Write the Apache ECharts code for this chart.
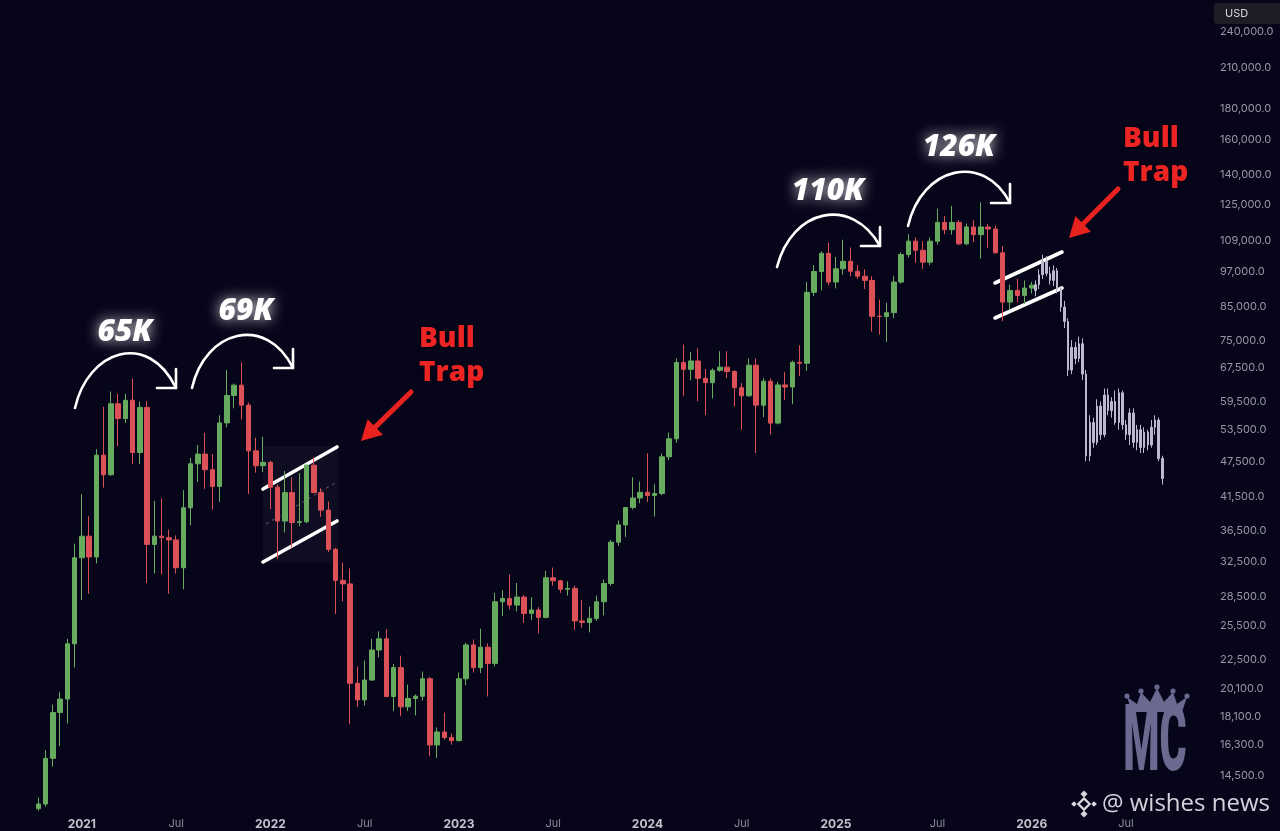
<!DOCTYPE html>
<html>
<head>
<meta charset="utf-8">
<script src="https://cdn.jsdelivr.net/npm/echarts@6/dist/echarts.min.js"></script>
<style>
html,body{margin:0;padding:0;background:#06051a;}
#chart{width:1280px;height:831px;}
</style>
</head>
<body>
<div id="chart"></div>
<script>
// ---------------- DATA ----------------
// BTC/USD 2-week candles, first bar starts 2020-10-12
const barStart = '2020-10-12';
const barStepDays = 14;
const btcOpen = [12800,13030,15480,18400,19360,23850,33000,35800,33100,48600,45140,59000,55800,59800,49100,58200,34700,35800,35600,35300,
31780,39850,47050,48800,46000,43200,54900,60900,63300,58700,49400,46700,47300,43080,37900,42200,37700,37800,46800,42200,
39500,34060,30300,29900,20550,19300,20800,23300,24300,19550,21800,18800,19400,19570,20900,16280,17100,16750,16550,20900,
23750,21800,23550,22150,27950,28300,27600,28450,26750,27100,26350,30600,30250,29300,29400,26000,25850,26250,27950,29950,
35000,37350,39900,41350,42250,41750,42050,48300,51700,68950,67200,69350,64950,63900,66950,67750,66650,62700,60800,68250,
58700,64250,54850,63350,62850,69000,68750,89850,97200,104100,93400,98200,101000,97300,95500,94000,82100,82000,83200,93400,
103600,109000,105300,100700,109000,117000,113800,117000,107900,115000,111700,115000,114100,104300,86600,90500,88800,91300];
const btcHigh = [13350,15960,18950,19900,24300,34800,41950,38600,49700,58350,61800,61200,61300,64850,59500,59600,40900,41300,36700,35900,
42600,48100,50500,52900,48800,56500,67000,63700,69000,59300,51900,52100,47600,43500,45800,44700,45400,46900,48200,42900,
40800,34250,32400,31700,21900,22400,24300,25000,25200,22100,22800,20450,19700,21480,21050,17400,18400,17000,21400,23950,
24250,25250,23900,28900,29200,31000,30000,28650,28450,27400,31400,31800,30350,30200,29700,28150,27450,28600,30400,35300,
38000,39950,44700,44000,48950,43550,48900,52950,70000,73800,71800,72800,67250,67450,71950,71950,67000,63800,70000,70000,
65000,64950,64100,66500,69450,73600,93450,99600,104900,108350,102700,109600,106400,99500,98000,95500,87400,86400,95500,104500,
111900,110600,108900,110500,123200,119800,124500,118000,116500,118000,126200,116400,115500,107000,92500,94500,94000,93500];
const btcLow = [12700,12900,15000,16200,17650,21800,28130,28800,32300,43000,44950,50300,54900,47000,47000,30000,31100,31000,28800,31100,
29300,37300,43900,42800,39600,40750,54000,58000,55600,42000,45500,45600,39650,32900,36300,34300,37150,37600,42100,38500,
33700,26700,28000,17600,18800,18900,20750,22650,19500,18500,18150,18500,18200,19250,15600,15500,16600,16300,16500,20400,
21400,21350,19550,21900,26500,27150,26950,25800,26100,24800,26250,29700,28900,28600,25150,25350,24900,26000,26550,29700,
34500,35700,39600,40550,40750,38550,41800,47700,50900,60800,64500,59600,56550,60200,66600,65000,58400,53500,60600,49000,
56100,52550,54600,59850,58900,65500,66800,88600,90500,92200,91200,96000,95500,94500,91000,77500,76600,74500,81500,92800,
102500,100400,98200,99500,107500,111900,111700,107300,107300,108600,102000,106300,104000,80600,84000,86500,86000,89500];
const btcClose = [13030,15480,18400,19360,23850,33000,35800,33100,48600,45140,59000,55800,59800,49100,58200,34700,35800,35600,35300,31780,
39850,47050,48800,46000,43200,54900,60900,63300,58700,49400,46700,47300,43080,37900,42200,37700,37800,46800,42200,39500,
34060,30300,29900,20550,19300,20800,23300,24300,19550,21800,18800,19400,19570,20900,16280,17100,16750,16550,20900,23750,
21800,23550,22150,27950,28300,27600,28450,26750,27100,26350,30600,30250,29300,29400,26000,25850,26250,27950,29950,35000,
37350,39900,41350,42250,41750,42050,48300,51700,68950,67200,69350,64950,63900,66950,67750,66650,62700,60800,68250,58700,
64250,54850,63350,62850,69000,68750,89850,97200,104100,93400,98200,101000,97300,95500,94000,82100,82000,83200,93400,103600,
109000,105300,100700,109000,117000,113800,117000,107900,115000,111700,115000,114100,104300,86600,90500,88800,91300,92300];

// Projected weekly path (grey), first bar 2026-01-19
const projStart = '2026-01-19';
const projStepDays = 7;
const projOpen  = [90500,92500,96000,101000,96500,94000,97500,91000,85000,80500,67000,73000,70000,74000,66000,48500,55000,51000,58500,52500,61000,57500,59500,55000,61500,54500,52500,57000,51000,53500,50000,53000,50500,54000,55500,48000];
const projHigh  = [94000,98000,103500,103000,99000,99500,98500,92000,87000,81500,75000,74500,76000,75500,67000,56500,56000,60000,59500,62500,62500,60500,62000,62500,62000,55500,58000,58000,54500,54500,54000,53500,55500,56500,56000,48500];
const projLow   = [88500,91000,94500,95500,92500,92000,89500,83500,78500,65500,66000,68500,69000,64500,47500,47500,50000,50500,51500,52000,56500,56000,54500,53500,53500,51500,50500,50000,49500,49000,49000,49500,50000,52500,47500,43500];
const projClose = [92500,96000,101000,96500,94000,97500,91000,85000,80500,67000,73000,70000,74000,66000,48500,55000,51000,58500,52500,61000,57500,59500,55000,61500,54500,52500,57000,51000,53500,50000,53000,50500,54000,55500,48000,44500];

// Axis ticks
const yTickValues = [240000,210000,180000,160000,140000,125000,109000,97000,85000,75000,67500,59500,53500,47500,41500,36500,32500,28500,25500,22500,20100,18100,16300,14500];
const xTickDates  = ['2021-01-04','2021-07-05','2022-01-03','2022-07-04','2023-01-02','2023-07-03','2024-01-01','2024-07-01','2024-12-30','2025-07-14','2026-01-12','2026-07-13'];
const xTickLabels = ['2021','Jul','2022','Jul','2023','Jul','2024','Jul','2025','Jul','2026','Jul'];
const xMinDate = '2020-07-30', xMaxDate = '2026-12-26';
const yMin = 12690, yMax = 270800;

// ---------------- BUILD ----------------
const DAY = 86400000;
const ms = d => Date.parse(d + 'T00:00:00Z');
const btcData = btcOpen.map((o, i) => [ms(barStart) + i * barStepDays * DAY, o, btcClose[i], btcLow[i], btcHigh[i]]);
const projData = projOpen.map((o, i) => [ms(projStart) + i * projStepDays * DAY, o, projClose[i], projLow[i], projHigh[i]]);
const tickMap = {};
xTickDates.forEach((d, i) => { tickMap[ms(d)] = xTickLabels[i]; });

const GREEN = '#66ab5e', RED = '#dc5157', GREY = '#bbb9ce';
const W = '#ffffff';
const WM = '#6b6990';

function arcPath(S, c1, c2, E) {
  return {type: 'bezierCurve', shape: {x1: S[0], y1: S[1], cpx1: c1[0], cpy1: c1[1], cpx2: c2[0], cpy2: c2[1], x2: E[0], y2: E[1]},
    style: {stroke: W, lineWidth: 2.6, fill: null, lineCap: 'round'}, silent: true};
}
function arrowHead(E, len) {
  return {type: 'polyline', shape: {points: [[E[0] - len, E[1]], E, [E[0], E[1] - len]]},
    style: {stroke: W, lineWidth: 2.6, fill: null, lineCap: 'round', lineJoin: 'round'}, silent: true};
}
function line(a, b, w, color) {
  return {type: 'line', shape: {x1: a[0], y1: a[1], x2: b[0], y2: b[1]}, style: {stroke: color || W, lineWidth: w, lineCap: 'round'}, silent: true};
}
function redArrow(tail, tip) {
  const dx = tip[0] - tail[0], dy = tip[1] - tail[1];
  const L = Math.hypot(dx, dy), ux = dx / L, uy = dy / L;
  const bx = tip[0] - 20 * ux, by = tip[1] - 20 * uy;
  const px = -uy, py = ux;
  return [
    line(tail, [bx + 2 * ux, by + 2 * uy], 5, '#e8231f'),
    {type: 'polygon', shape: {points: [tip, [bx + 11 * px, by + 11 * py], [bx - 11 * px, by - 11 * py]]}, style: {fill: '#e8231f'}, silent: true}
  ];
}
function peakText(txt, x, y) {
  return {type: 'text', x: x, y: y, silent: true, style: {text: txt, fill: '#ffffff', font: 'italic 800 30px "Open Sans", sans-serif',
    textAlign: 'center', textVerticalAlign: 'middle', textShadowColor: 'rgba(255,255,255,0.85)', textShadowBlur: 14}};
}
function trapText(x, y) {
  return {type: 'text', x: x, y: y, silent: true, style: {text: 'Bull\nTrap', fill: '#ec2424', font: '800 28px "Open Sans", sans-serif',
    lineHeight: 34, textAlign: 'left', textVerticalAlign: 'top', textShadowColor: 'rgba(0,0,0,0.6)', textShadowBlur: 4}};
}
function dot(x, y, r, c) { return {type: 'circle', shape: {cx: x, cy: y, r: r}, style: {fill: c}, silent: true}; }
function diamond(x, y, s, filled) {
  return {type: 'rect', x: x, y: y, rotation: Math.PI / 4, shape: {x: -s / 2, y: -s / 2, width: s, height: s},
    style: filled ? {fill: '#d9d9e2'} : {fill: 'none', stroke: '#d9d9e2', lineWidth: 2.2}, silent: true};
}

const graphics = [
  // channel 1 shading + dashed mid lines
  {type: 'rect', shape: {x: 263, y: 446, width: 75, height: 117}, style: {fill: 'rgba(255,255,255,0.035)'}, silent: true},
  {type: 'line', shape: {x1: 266, y1: 524, x2: 335, y2: 483}, style: {stroke: 'rgba(255,255,255,0.35)', lineWidth: 1, lineDash: [3, 4]}, silent: true},
  line([263, 489], [337, 447], 3.6), line([263, 562], [337, 521], 3.6),
  // channel 2
  line([995, 283], [1062, 252], 3.6), line([995, 318], [1062, 288], 3.6),
  // arcs
  arcPath([75, 408], [88, 350], [148, 330], [176, 388]), arrowHead([176, 388], 19),
  arcPath([192, 388], [205, 330], [266, 314], [293, 368]), arrowHead([293, 368], 19),
  arcPath([777, 267], [792, 208], [852, 196], [880, 246]), arrowHead([880, 246], 19),
  arcPath([908, 226], [922, 166], [984, 152], [1010, 203]), arrowHead([1010, 203], 19),
  ...redArrow([411, 392], [361, 441]),
  ...redArrow([1118, 189], [1069, 238]),
  peakText('65K', 125, 332), peakText('69K', 246, 311), peakText('110K', 828, 191), peakText('126K', 959, 147),
  trapText(419, 322), trapText(1123, 122),
  // USD box
  {type: 'rect', shape: {x: 1214, y: 3, width: 70, height: 21, r: 3}, style: {fill: '#1e1d26'}, silent: true},
  {type: 'text', x: 1225, y: 14, silent: true, style: {text: 'USD', fill: '#d6d6de', font: '11px Inter, sans-serif', textVerticalAlign: 'middle'}},
  // MC watermark (crown + letters)
  {type: 'polygon', shape: {points: [[1132, 712], [1127, 697], [1137, 704], [1141, 692], [1150, 702], [1157, 688], [1164, 702], [1173, 692], [1177, 704], [1187, 697], [1182, 712]]}, style: {fill: WM}, silent: true},
  dot(1127, 696, 2.6, WM), dot(1141, 691, 2.6, WM), dot(1157, 687, 2.6, WM), dot(1173, 691, 2.6, WM), dot(1187, 696, 2.6, WM),
  {type: 'text', x: 1155, y: 747, scaleX: 0.45, silent: true,
    style: {text: 'MC', fill: WM, font: '900 92px Roboto, sans-serif', textAlign: 'center', textVerticalAlign: 'middle'}},
  // wishes news watermark
  diamond(1084, 804, 8, false), diamond(1084, 794, 5, true), diamond(1084, 814, 5, true), diamond(1074, 804, 4, true), diamond(1094, 804, 4, true),
  {type: 'text', x: 1102, y: 804, silent: true, style: {text: '@ wishes news', fill: 'rgba(228,228,236,0.92)', font: '24px "Open Sans", sans-serif', textVerticalAlign: 'middle'}}
];

const chart = echarts.init(document.getElementById('chart'), null, {renderer: 'canvas'});
chart.setOption({
  backgroundColor: '#06051a',
  animation: false,
  grid: {left: 0, right: 68, top: 0, bottom: 20, containLabel: false},
  xAxis: {
    type: 'value', min: ms(xMinDate), max: ms(xMaxDate),
    splitLine: {show: false}, axisLine: {show: false}, axisTick: {show: false},
    axisLabel: {
      customValues: xTickDates.map(ms), margin: 7,
      formatter: v => { const l = tickMap[v] || ''; return l === 'Jul' ? '{m|Jul}' : '{y|' + l + '}'; },
      rich: {
        y: {color: '#c4c4cc', fontSize: 12, fontWeight: 'bold', fontFamily: 'Inter, sans-serif'},
        m: {color: '#8d8d99', fontSize: 11, fontFamily: 'Inter, sans-serif'}
      }
    }
  },
  yAxis: {
    type: 'log', logBase: 10, min: yMin, max: yMax, position: 'right',
    splitLine: {show: false}, axisLine: {show: false}, axisTick: {show: false},
    axisLabel: {
      customValues: yTickValues, margin: 8, color: '#9898a4', fontSize: 11, fontFamily: 'Inter, sans-serif',
      formatter: v => (Math.round(v / 100) * 100).toLocaleString('en-US', {minimumFractionDigits: 1, maximumFractionDigits: 1})
    }
  },
  series: [
    {type: 'candlestick', data: btcData, barWidth: 5, clip: true,
      itemStyle: {color: GREEN, color0: RED, borderColor: GREEN, borderColor0: RED, borderWidth: 1}},
    {type: 'candlestick', data: projData, barWidth: 2, clip: true,
      itemStyle: {color: GREY, color0: GREY, borderColor: GREY, borderColor0: GREY, borderWidth: 1}}
  ],
  graphic: graphics
});
</script>
</body>
</html>
